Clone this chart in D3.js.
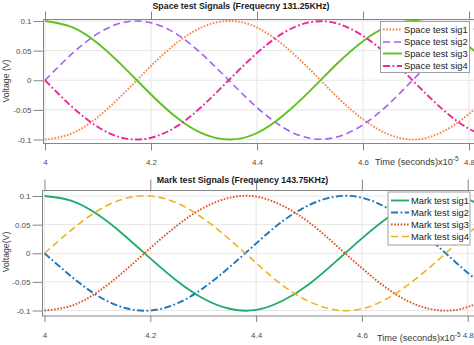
<!DOCTYPE html>
<html><head><meta charset="utf-8">
<script src="https://cdn.jsdelivr.net/npm/d3@7"></script>
<style>
body{margin:0;background:#fff}
svg{display:block}
text{font-family:"Liberation Sans",Arial,sans-serif}
</style>
</head><body>
<svg id="c" width="474" height="345"></svg>
<script>
// ---- data (time in units of 1e-5 s, voltage in V) ----
const time = [4.00,4.05,4.10,4.15,4.20,4.25,4.30,4.35,4.40,4.45,4.50,4.55,4.60,4.65,4.70,4.75,4.80,4.85];
const xTicks = [4,4.2,4.4,4.6,4.8];
const yTicks = [-0.1,-0.05,0,0.05,0.1];
const yTickLabels = ["-0.1","-0.05","0","0.05","0.1"];

const spaceTitle = "Space test Signals (Frequecny 131.25KHz)";
const spaceNames = ["Space test sig1","Space test sig2","Space test sig3","Space test sig4"];
const spaceSig1 = [-0.100,-0.090,-0.062,-0.021,0.024,0.064,0.091,0.100,0.089,0.059,0.018,-0.027,-0.066,-0.092,-0.100,-0.087,-0.057,-0.016];
const spaceSig2 = [0.000,0.044,0.079,0.098,0.097,0.077,0.041,-0.003,-0.046,-0.080,-0.098,-0.096,-0.075,-0.039,0.006,0.049,0.082,0.099];
const spaceSig3 = [0.100,0.090,0.062,0.021,-0.024,-0.064,-0.091,-0.100,-0.089,-0.059,-0.018,0.027,0.066,0.092,0.100,0.087,0.057,0.016];
const spaceSig4 = [0.000,-0.044,-0.079,-0.098,-0.097,-0.077,-0.041,0.003,0.046,0.080,0.098,0.096,0.075,0.039,-0.006,-0.049,-0.082,-0.099];

const markTitle = "Mark test Signals (Frequency 143.75KHz)";
const markNames = ["Mark test sig1","Mark test sig2","Mark test sig3","Mark test sig4"];
const markSig1 = [0.100,0.092,0.068,0.032,-0.009,-0.048,-0.079,-0.097,-0.099,-0.083,-0.054,-0.015,0.026,0.063,0.089,0.100,0.094,0.072];
const markSig2 = [0.000,-0.040,-0.074,-0.095,-0.100,-0.088,-0.061,-0.024,0.017,0.056,0.084,0.099,0.097,0.078,0.046,0.007,-0.034,-0.069];
const markSig3 = [-0.100,-0.092,-0.068,-0.032,0.009,0.048,0.079,0.097,0.099,0.083,0.054,0.015,-0.026,-0.063,-0.089,-0.100,-0.094,-0.072];
const markSig4 = [0.000,0.040,0.074,0.095,0.100,0.088,0.061,0.024,-0.017,-0.056,-0.084,-0.099,-0.097,-0.078,-0.046,-0.007,0.034,0.069];

const svg = d3.select("#c");
const DOT = "1.6,1.6", DASH = "7,4", DASHDOT = "7,2.5,1.8,2.5", SOLID = null;

function panel(cfg, idx) {
  const g = svg.append("g");
  const x = d3.scaleLinear().domain([4, 4.8]).range(cfg.xr);
  const y = d3.scaleLinear().domain([-0.1, 0.1]).range(cfg.yr);
  const L = cfg.frame.l, T = cfg.frame.t, B = cfg.frame.b, R = 480;

  g.append("rect").attr("x", L).attr("y", T).attr("width", R - L).attr("height", B - T).attr("fill", "#fff");
  // grid
  g.append("g").selectAll("line.gx").data(xTicks).join("line")
    .attr("x1", d => x(d)).attr("x2", d => x(d)).attr("y1", T).attr("y2", B)
    .attr("stroke", "#e6e6e6").attr("stroke-width", 1);
  g.append("g").selectAll("line.gy").data(yTicks).join("line")
    .attr("x1", L).attr("x2", R).attr("y1", d => y(d)).attr("y2", d => y(d))
    .attr("stroke", "#e6e6e6").attr("stroke-width", 1);

  // clip
  const cid = "clip" + idx;
  svg.append("clipPath").attr("id", cid).append("rect")
    .attr("x", L).attr("y", T).attr("width", R - L).attr("height", B - T);

  const line = d3.line().x((d, i) => x(time[i])).y(d => y(d)).curve(d3.curveNatural);
  const lines = g.append("g").attr("clip-path", `url(#${cid})`);
  cfg.series.forEach((s, i) => {
    lines.append("path").datum(s).attr("d", line)
      .attr("fill", "none").attr("stroke", cfg.colors[i])
      .attr("stroke-width", cfg.widths[i])
      .attr("stroke-dasharray", cfg.dashes[i]);
  });

  // frame
  g.append("rect").attr("x", L).attr("y", T).attr("width", R - L).attr("height", B - T)
    .attr("fill", "none").attr("stroke", "#858585").attr("stroke-width", 1);

  // axes
  const styleAxis = a => {
    a.select(".domain").remove();
    a.selectAll("line").attr("stroke", "#858585");
    a.selectAll("text").attr("fill", "#4d4d4d").style("font-size", "8px").style("font-family", '"Liberation Sans",Arial,sans-serif');
  };
  const xa = g.append("g").attr("transform", `translate(0,${B})`)
    .call(d3.axisBottom(x).tickValues(xTicks).tickSize(cfg.botTick).tickPadding(cfg.botPad).tickFormat(d3.format("")));
  styleAxis(xa);
  const xt = g.append("g").attr("transform", `translate(0,${T})`)
    .call(d3.axisTop(x).tickValues(xTicks).tickSize(cfg.topTick).tickFormat(""));
  styleAxis(xt);
  const ya = g.append("g").attr("transform", `translate(${L},0)`)
    .call(d3.axisLeft(y).tickValues(yTicks).tickSize(10).tickPadding(2).tickFormat((d, i) => yTickLabels[i]));
  styleAxis(ya);

  // title
  g.append("text").attr("x", cfg.titleX).attr("y", cfg.titleY).attr("text-anchor", "middle")
    .style("font-size", "8.8px").style("font-weight", "bold").attr("fill", "#1a1a1a").text(cfg.title);
  // y label
  g.append("text").attr("transform", `translate(${cfg.ylabX},${cfg.ylabY}) rotate(-90)`)
    .attr("text-anchor", "middle").style("font-size", "8.7px").attr("fill", "#3a3a3a").text(cfg.ylabel);
  // x label
  const xl = g.append("text").attr("x", cfg.xlabX).attr("y", cfg.xlabY)
    .style("font-size", "9.2px").attr("fill", "#3a3a3a");
  xl.append("tspan").text("Time (seconds)x10");
  xl.append("tspan").attr("dy", -4).style("font-size", "6.5px").text("-5");

  // legend
  const lg = g.append("g");
  lg.append("rect").attr("x", cfg.leg.x).attr("y", cfg.leg.y).attr("width", cfg.leg.w).attr("height", cfg.leg.h)
    .attr("fill", "#fff").attr("stroke", "#a0a0a0").attr("stroke-width", 1);
  cfg.names.forEach((n, i) => {
    const ry = cfg.leg.rows[i];
    lg.append("line").attr("x1", cfg.leg.l1).attr("x2", cfg.leg.l2).attr("y1", ry).attr("y2", ry)
      .attr("stroke", cfg.colors[i]).attr("stroke-width", cfg.widths[i]).attr("stroke-dasharray", cfg.dashes[i]);
    lg.append("text").attr("x", cfg.leg.tx).attr("y", ry).attr("dy", "0.35em")
      .style("font-size", "9.3px").attr("fill", "#222").text(n);
  });
}

panel({
  title: spaceTitle, titleX: 241, titleY: 9,
  ylabel: "Voltage (V)", ylabX: 9, ylabY: 81,
  xlabX: 375, xlabY: 165,
  xr: [45, 469], yr: [139.5, 21],
  frame: {l: 43.5, t: 19.5, b: 143.5},
  topTick: 8, botTick: 7, botPad: 9,
  series: [spaceSig1, spaceSig2, spaceSig3, spaceSig4],
  names: spaceNames,
  colors: ["#ff7f40", "#a45ff0", "#5ec21e", "#ee2a9a"],
  widths: [1.9, 1.6, 1.9, 1.9],
  dashes: [DOT, DASH, SOLID, DASHDOT],
  leg: {x: 380.5, y: 21.5, w: 89, h: 51, rows: [29.5, 42, 53.5, 66], l1: 383, l2: 402, tx: 404}
}, 0);

panel({
  title: markTitle, titleX: 242.5, titleY: 183,
  ylabel: "Voltage(V)", ylabX: 9, ylabY: 252,
  xlabX: 377, xlabY: 341,
  xr: [44.5, 467.7], yr: [310.5, 196],
  frame: {l: 42.5, t: 190.5, b: 316},
  topTick: 11, botTick: 6, botPad: 10,
  series: [markSig1, markSig2, markSig3, markSig4],
  names: markNames,
  colors: ["#22ac6c", "#1f77bd", "#e0521e", "#eeb221"],
  widths: [1.9, 1.9, 1.9, 1.6],
  dashes: [SOLID, DASHDOT, DOT, DASH],
  leg: {x: 388, y: 192, w: 82, h: 53, rows: [200.5, 212.5, 224.5, 236.5], l1: 391, l2: 409, tx: 411}
}, 1);
</script>
</body></html>
